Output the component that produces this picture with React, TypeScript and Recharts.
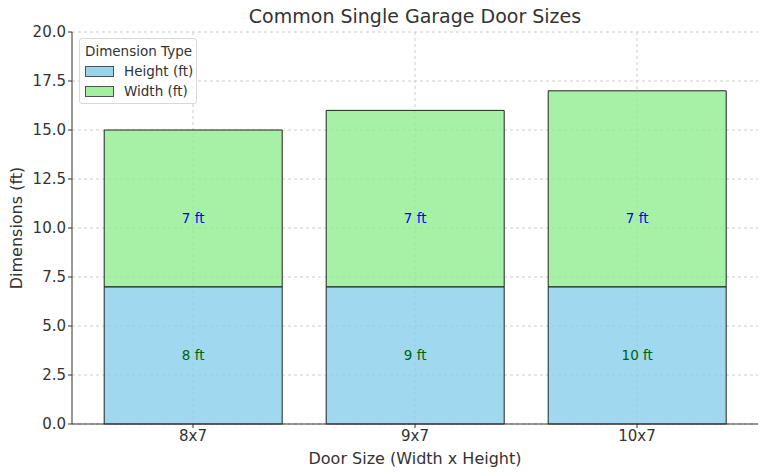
import { BarChart, Bar, XAxis, YAxis, CartesianGrid, LabelList } from 'recharts';

const doors = ['8x7', '9x7', '10x7'];
const heights = [7, 7, 7];
const widths = [8, 9, 10];
const yTicks = [0, 2.5, 5, 7.5, 10, 12.5, 15, 17.5, 20];

const FONT = '"DejaVu Sans", sans-serif';
const AXIS = '#333333';
const X_PAD = 10;

const data = doors.map((door, i) => ({ door, height: heights[i], width: widths[i] }));

// both value labels hang off the lower (height) segment: width text in its middle,
// height text half a segment above its top
function SegmentLabels(props: any) {
  const { x, y, width, height, index } = props;
  const cx = x + width / 2;
  return (
    <g fontFamily={FONT} fontSize={13.5} textAnchor="middle" dominantBaseline="central">
      <text x={cx} y={y + height / 2} fill="darkgreen">{`${widths[index]} ft`}</text>
      <text x={cx} y={y - height / 2} fill="blue">{`${heights[index]} ft`}</text>
    </g>
  );
}

function LegendBox() {
  const items = [
    { name: 'Height (ft)', color: '#87CEEB' },
    { name: 'Width (ft)', color: '#90EE90' },
  ];
  return (
    <div
      style={{
        position: 'absolute',
        left: 79,
        top: 38,
        width: 118,
        height: 66,
        boxSizing: 'border-box',
        border: '1px solid #d8d8d8',
        borderRadius: 3,
        background: 'rgba(255,255,255,0.8)',
        padding: '3px 0 0 5px',
        fontFamily: FONT,
        fontSize: 13.5,
        color: '#333',
      }}
    >
      <div style={{ lineHeight: '18px', marginBottom: 1 }}>Dimension Type</div>
      {items.map((it) => (
        <div key={it.name} style={{ display: 'flex', alignItems: 'center', height: 20 }}>
          <span
            style={{
              display: 'inline-block',
              width: 27,
              height: 9,
              background: it.color,
              opacity: 0.85,
              border: '1px solid #333',
              marginRight: 10,
            }}
          />
          {it.name}
        </div>
      ))}
    </div>
  );
}

// vertical grid only at the category centres
function gridX({ offset }: any) {
  const band = (offset.width - 2 * X_PAD) / doors.length;
  return doors.map((_, i) => offset.left + X_PAD + band * (i + 0.5));
}

export default function App() {
  return (
    <div style={{ position: 'absolute', left: 0, top: 0, width: 768, height: 476, background: '#fff' }}>
      <BarChart
        width={768}
        height={476}
        data={data}
        margin={{ top: 32, right: 10, bottom: 0, left: 0 }}
        barCategoryGap="10%"
      >
        <CartesianGrid stroke="#cccccc" strokeDasharray="3 3" vertical horizontal verticalCoordinatesGenerator={gridX} />
        <XAxis
          dataKey="door"
          height={52}
          padding={{ left: X_PAD, right: X_PAD }}
          stroke={AXIS}
          tickLine={{ stroke: AXIS }}
          tickSize={4}
          tick={{ fill: '#333', fontSize: 15, fontFamily: FONT }}
          label={{ value: 'Door Size (Width x Height)', position: 'insideBottom', offset: 12, fill: '#333', fontSize: 16, fontFamily: FONT }}
        />
        <YAxis
          width={72}
          domain={[0, 20]}
          ticks={yTicks}
          tickFormatter={(v: number) => v.toFixed(1)}
          stroke={AXIS}
          tickSize={4}
          tick={{ fill: '#333', fontSize: 15, fontFamily: FONT }}
          label={{ value: 'Dimensions (ft)', angle: -90, position: 'insideLeft', offset: 16, fill: '#333', fontSize: 16, fontFamily: FONT, style: { textAnchor: 'middle' } }}
        />
        <Bar dataKey="height" name="Height (ft)" stackId="a" fill="#87CEEB" fillOpacity={0.8} stroke="#222" strokeWidth={1} isAnimationActive={false}>
          <LabelList dataKey="height" content={SegmentLabels} />
        </Bar>
        <Bar dataKey="width" name="Width (ft)" stackId="a" fill="#90EE90" fillOpacity={0.8} stroke="#222" strokeWidth={1} isAnimationActive={false} />
      </BarChart>
      <div
        style={{
          position: 'absolute',
          left: 72,
          width: 686,
          top: 5,
          textAlign: 'center',
          fontFamily: FONT,
          fontSize: 19,
          color: '#333',
        }}
      >
        Common Single Garage Door Sizes
      </div>
      <LegendBox />
    </div>
  );
}
